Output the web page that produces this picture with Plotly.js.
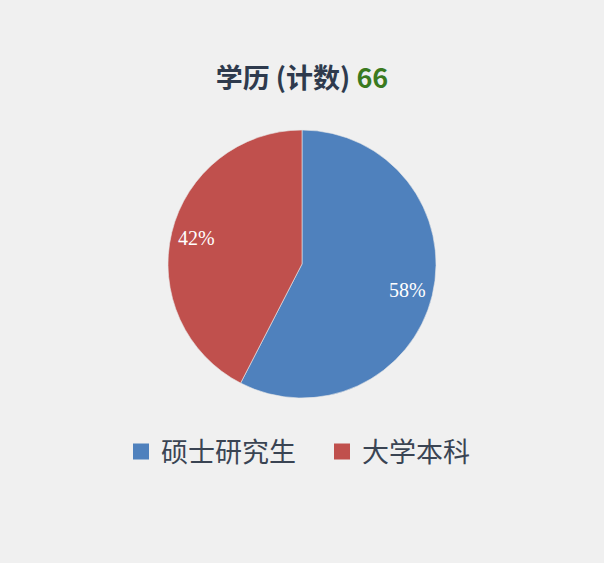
<!DOCTYPE html>
<html><head><meta charset="utf-8">
<script src="https://cdn.plot.ly/plotly-3.0.1.min.js"></script>
<style>html,body{margin:0;padding:0;background:#f0f0f0;}</style>
</head><body>
<div id="chart" style="width:604px;height:563px;"></div>
<script>
const categories = ["硕士研究生", "大学本科"];
const counts = [38, 28];
const total = 66;
const colors = ["#4F81BD", "#C0504D"];

// pie geometry (domain) in paper fractions
const domX = [168/604, 436/604];
const domY = [1 - 398/563, 1 - 130/563];

// label annotations placed from data (mid-angle of each slice, clockwise from top)
const sum = counts.reduce((a, b) => a + b, 0);
const cx = (domX[0] + domX[1]) / 2, cy = (domY[0] + domY[1]) / 2;
const rx = (domX[1] - domX[0]) / 2, ry = (domY[1] - domY[0]) / 2;
const labelR = 0.81;
let acc = 0;
const annotations = counts.map((v, i) => {
  const mid = (acc + v / 2) / sum * 2 * Math.PI;
  acc += v;
  return {
    x: cx + labelR * rx * Math.sin(mid),
    y: cy + labelR * ry * Math.cos(mid),
    xref: "paper", yref: "paper",
    text: Math.round(v / sum * 100) + "%",
    showarrow: false,
    font: {family: "Liberation Serif, DejaVu Serif, serif", size: 20, color: "#ffffff"},
    xanchor: "center", yanchor: "middle"
  };
});

const data = [{
  type: "pie",
  labels: categories,
  values: counts,
  sort: false,
  direction: "clockwise",
  rotation: 0,
  marker: {colors: colors, line: {color: "#e8e8e8", width: 0.6}},
  textinfo: "none",
  domain: {x: domX, y: domY},
  showlegend: false,
  hoverinfo: "none"
}].concat(categories.map((c, i) => ({
  type: "scatter",
  mode: "markers",
  x: [null], y: [null],
  name: c,
  marker: {symbol: "square", size: 16, color: colors[i]},
  showlegend: true,
  hoverinfo: "none"
})));

const layout = {
  width: 604, height: 563,
  paper_bgcolor: "#f0f0f0",
  plot_bgcolor: "rgba(0,0,0,0)",
  margin: {l: 0, r: 0, t: 0, b: 0},
  xaxis: {visible: false},
  yaxis: {visible: false},
  annotations: annotations,
  title: {
    text: "<b>学历 (计数) <span style='color:#3a7a1f'>" + total + "</span></b>",
    font: {family: "Noto Sans CJK SC, sans-serif", size: 27, color: "#2e3a4d"},
    x: 0.5, xanchor: "center", xref: "paper",
    y: 1 - 79/563, yanchor: "middle", yref: "paper"
  },
  showlegend: true,
  legend: {
    orientation: "h",
    x: 0.5 + 20/604, xanchor: "center",
    y: 1 - 452/563, yanchor: "middle",
    font: {family: "Noto Sans CJK SC, sans-serif", size: 27, color: "#3a4453"},
    bgcolor: "rgba(0,0,0,0)",
    itemsizing: "trace",
    traceorder: "normal",
    entrywidth: 156,
    entrywidthmode: "pixels"
  }
};

Plotly.newPlot("chart", data, layout, {displayModeBar: false, staticPlot: true});
</script>
</body></html>
